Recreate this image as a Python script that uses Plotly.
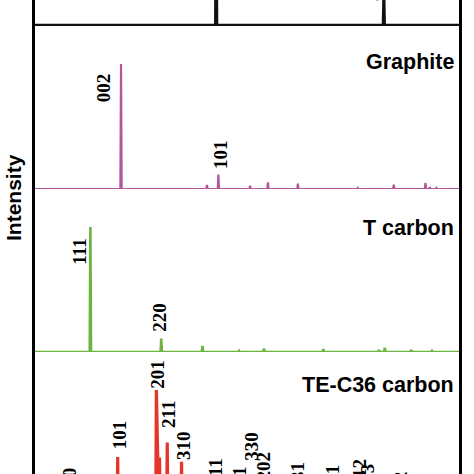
import plotly.graph_objects as go

# ---------------- data ----------------
X_MIN, X_MAX = 10, 90

diamond_pos = [44.18, 75.82]
diamond_int = [100, 25]
diamond_labels = ["220"]
diamond_label_x = [73.4]
diamond_label_bottom = [18.0]

graphite_pos = [26.23, 42.45, 44.6, 50.58, 53.95, 59.6, 70.9, 77.7, 83.67, 84.48, 85.75]
graphite_int = [100, 3.2, 11.5, 2.7, 5.3, 4.3, 0.8, 3.5, 5.0, 1.4, 0.8]
graphite_labels = ["002", "101"]
graphite_label_x = [22.9, 44.9]
graphite_label_top = [93.2, 40.4]

tcarbon_pos = [20.45, 33.82, 41.6, 48.5, 53.2, 64.4, 74.9, 76.0, 81.0, 84.9]
tcarbon_int = [100, 10.7, 4.8, 0.8, 2.9, 2.4, 1.8, 3.5, 1.6, 0.8]
tcarbon_labels = ["111", "220"]
tcarbon_label_x = [18.4, 33.6]
tcarbon_label_top = [91.0, 39.8]

tec36_pos = [16.55, 25.6, 32.9, 33.5, 34.95, 37.65, 44.0, 48.6, 50.8, 53.2,
             59.6, 66.2, 71.3, 72.8, 79.0]
tec36_int = [12, 46.4, 100, 46, 58, 42.6, 18, 14, 28, 25, 17, 15, 19, 16, 10]
tec36_labels = ["110", "101", "201", "211", "310", "411", "321", "330", "202",
                "431", "521", "512", "323", "602"]
tec36_label_x = [16.55, 26.0, 33.07, 35.2, 38.0, 44.0, 48.6, 50.8, 53.2,
                 59.6, 66.2, 71.3, 72.8, 79.0]
tec36_label_top = [38.4, 76.8, 124.8, 92, 68, 45.6, 40, 67.2, 52, 44, 41.6,
                   46.4, 42.4, 36]

panel_names = ["TE-C36 carbon", "T carbon", "Graphite"]

# ---------------- styling ----------------
C_DIA = "#111111"
C_GRA = "#B4569C"
C_TC = "#6DB33F"
C_TE = "#E5352B"
SANS = "Liberation Sans, Arial, sans-serif"
SERIF = "Liberation Serif, Times New Roman, serif"

W = H = 474
ML, MR = 35, 15
PW = W - ML - MR


def spikes(pos, inten, w=0.12):
    xs, ys = [X_MIN], [0]
    for p, h in sorted(zip(pos, inten)):
        xs += [p - w, p, p + w]
        ys += [0, h, 0]
    xs.append(X_MAX)
    ys.append(0)
    return xs, ys


fig = go.Figure()

panels = [
    ("x", "y", tec36_pos, tec36_int, C_TE, 3.2, True),
    ("x2", "y2", tcarbon_pos, tcarbon_int, C_TC, 2.6, False),
    ("x3", "y3", graphite_pos, graphite_int, C_GRA, 2.2, False),
    ("x4", "y4", diamond_pos, diamond_int, C_DIA, 3.0, True),
]
for xa, ya, p, h, c, lw, clip in panels:
    xs, ys = spikes(p, h)
    fig.add_trace(go.Scatter(x=xs, y=ys, mode="lines", xaxis=xa, yaxis=ya,
                             line=dict(color=c, width=lw), cliponaxis=clip,
                             hoverinfo="skip", showlegend=False))

d_bot = (H - 352) / H
d_mid = (H - 189) / H
d_top = (H - 26) / H

yax = dict(showline=True, mirror=True, linecolor="black", linewidth=2.5,
           showticklabels=False, ticks="", showgrid=False, zeroline=False)
xax = dict(range=[X_MIN, X_MAX], visible=False)

fig.update_layout(
    width=W, height=H,
    margin=dict(l=ML, r=MR, t=0, b=0),
    plot_bgcolor="white", paper_bgcolor="white",
    xaxis=dict(xax, anchor="y"),
    xaxis2=dict(xax, anchor="y2"),
    xaxis3=dict(xax, anchor="y3"),
    xaxis4=dict(xax, anchor="y4"),
    yaxis=dict(yax, domain=[0, d_bot], range=[32.8, 130.4]),
    yaxis2=dict(yax, domain=[d_bot, d_mid], range=[0, 130.4]),
    yaxis3=dict(yax, domain=[d_mid, d_top], range=[0, 130.4]),
    yaxis4=dict(yax, domain=[d_top, 1], range=[-0.6, 20.2]),
)

ann = []
lab_font = dict(family=SERIF, size=19, color="black", weight="bold")


def add_labels(labels, xs, ys, xref, yref, anchor, color="black"):
    for t, x, y in zip(labels, xs, ys):
        ann.append(dict(text=t, x=x, y=y, xref=xref, yref=yref, showarrow=False,
                        textangle=-90, xanchor="center", yanchor=anchor,
                        font=dict(lab_font, color=color), borderpad=0))


add_labels(tec36_labels, tec36_label_x, tec36_label_top, "x", "y", "top")
add_labels(tcarbon_labels, tcarbon_label_x, tcarbon_label_top, "x2", "y2", "top")
add_labels(graphite_labels, graphite_label_x, graphite_label_top, "x3", "y3", "top")
add_labels(diamond_labels, diamond_label_x, diamond_label_bottom, "x4", "y4", "bottom",
           color="#555555")

name_font = dict(family=SANS, size=21.5, color="black", weight="bold")
for name, ref, yd in zip(panel_names, ["", "2", "3"], [0.73, 0.759, 0.781]):
    ann.append(dict(text=name, x=0.992, y=yd, xref=f"x{ref} domain", yref=f"y{ref} domain",
                    showarrow=False, xanchor="right", yanchor="middle", font=name_font))

ann.append(dict(text="Intensity", x=(13 - ML) / PW, y=1 - 198 / H, xref="paper", yref="paper",
                showarrow=False, textangle=-90, xanchor="center", yanchor="middle",
                font=dict(family=SANS, size=21, color="black", weight="bold")))

fig.update_layout(annotations=ann)
fig.write_html("out.html", config={"displayModeBar": False},
               post_script="document.body.style.margin='0';")
